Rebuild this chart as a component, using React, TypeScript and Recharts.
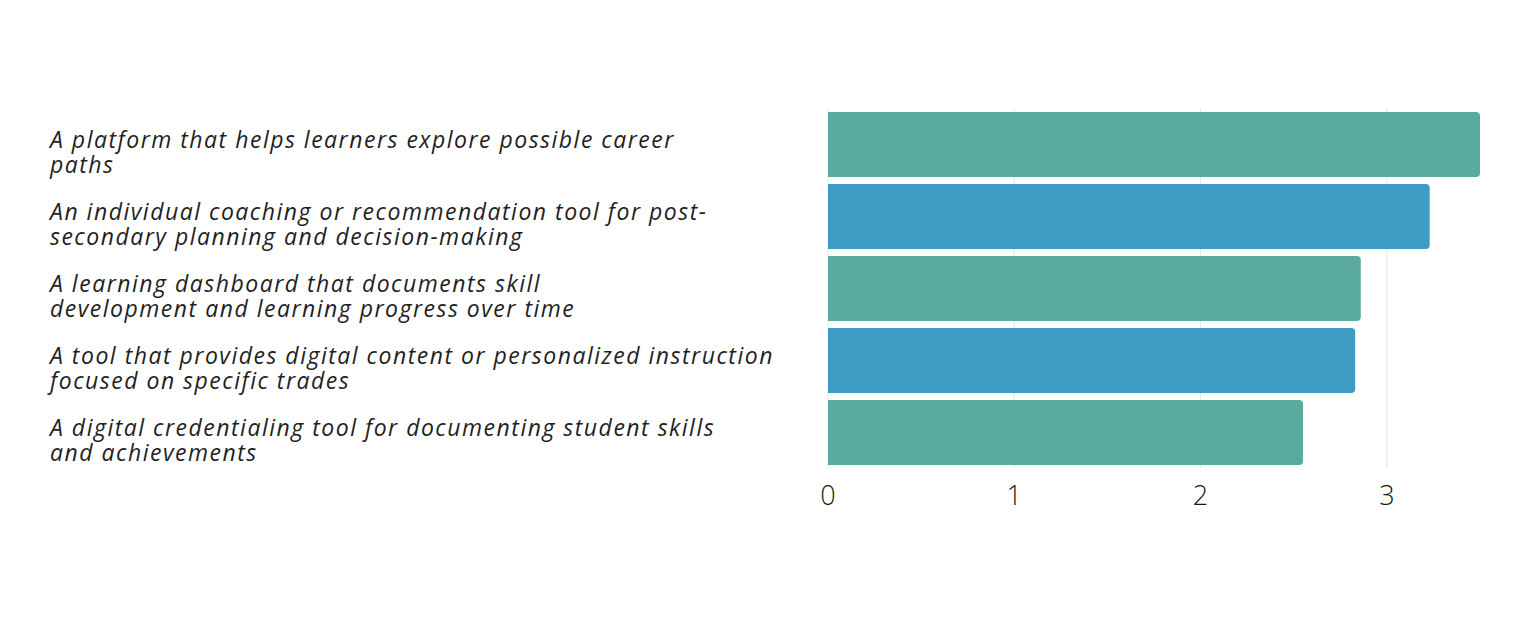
import React from "react";
import { BarChart, Bar, XAxis, YAxis, CartesianGrid, Cell } from "recharts";

const categoryLines: string[][] = [
  ["A platform that helps learners explore possible career", "paths"],
  ["An individual coaching or recommendation tool for post-", "secondary planning and decision-making"],
  ["A learning dashboard that documents skill", "development and learning progress over time"],
  ["A tool that provides digital content or personalized instruction", "focused on specific trades"],
  ["A digital credentialing tool for documenting student skills", "and achievements"],
];
const values: number[] = [3.5, 3.23, 2.86, 2.83, 2.55];
const barColors: string[] = ["#5aaa9f", "#3e9cc4", "#5aaa9f", "#3e9cc4", "#5aaa9f"];
const xTicks: number[] = [0, 1, 2, 3];

const data = categoryLines.map((lines, i) => ({
  key: String(i),
  value: values[i],
}));

const LABEL_X = 42;

const YTick = (props: any) => {
  const { y, payload } = props;
  const lines = categoryLines[Number(payload.value)] || [];
  return (
    <text
      x={LABEL_X}
      y={y - 4}
      textAnchor="start"
      fill="#1f1f1f"
      fontFamily="'Open Sans', sans-serif"
      fontStyle="italic"
      fontSize={23}
      letterSpacing={1.5}
    >
      {lines.map((l, i) => (
        <tspan key={i} x={LABEL_X} dy={i === 0 ? "0.35em" : 24.5}>
          {l}
        </tspan>
      ))}
    </text>
  );
};

const gridX = (args: any) => {
  const off = args.offset;
  const max = 3.5;
  return xTicks.map((t) => off.left + (t / max) * off.width);
};

export default function App() {
  return (
    <div style={{ width: 1520, height: 614, background: "#fff" }}>
      <BarChart
        width={1520}
        height={614}
        data={data}
        layout="vertical"
        margin={{ top: 100, right: 48, bottom: 114, left: 0 }}
        barCategoryGap={4}
      >
        <CartesianGrid
          horizontal={false}
          vertical={true}
          stroke="#e4e4e4"
          verticalCoordinatesGenerator={gridX}
        />
        <XAxis
          type="number"
          domain={[0, 3.5]}
          ticks={xTicks}
          axisLine={false}
          tickLine={false}
          tick={{ fill: "#1a1a1a", fontSize: 27, fontFamily: "'Open Sans', sans-serif", fontWeight: 300 }}
          tickMargin={12}
          height={40}
        />
        <YAxis
          type="category"
          dataKey="key"
          width={820}
          axisLine={false}
          tickLine={false}
          tick={<YTick />}
          interval={0}
        />
        <Bar dataKey="value" barSize={65} radius={[0, 4, 4, 0]} isAnimationActive={false}>
          {data.map((d, i) => (
            <Cell key={d.key} fill={barColors[i]} />
          ))}
        </Bar>
      </BarChart>
    </div>
  );
}
